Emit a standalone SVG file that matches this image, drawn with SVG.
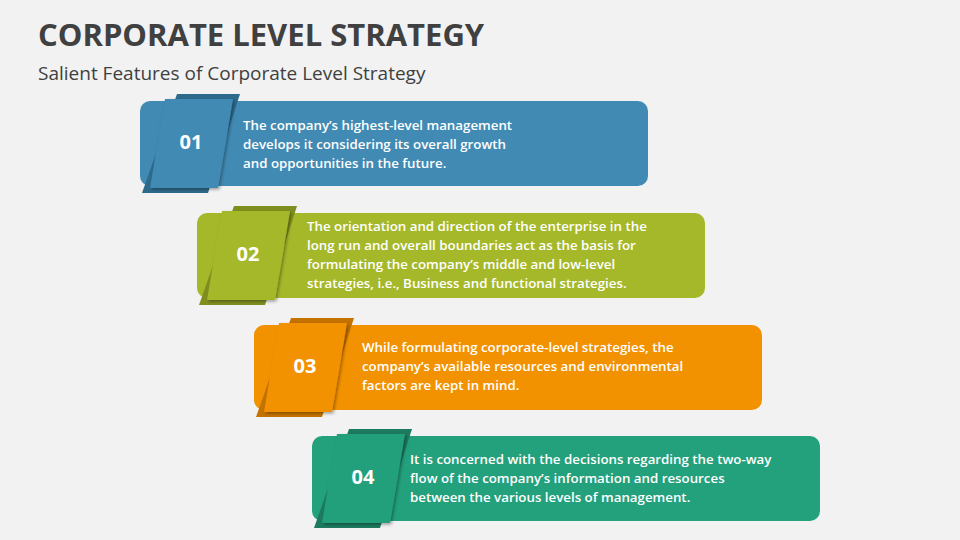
<svg xmlns="http://www.w3.org/2000/svg" width="960" height="540" viewBox="0 0 960 540">
<style>
.t{font-family:"Open Sans","Liberation Sans",sans-serif;font-size:13.3px;font-weight:600;fill:#fff}
.n{font-family:"Open Sans","Liberation Sans",sans-serif;font-size:20px;font-weight:700;fill:#fff;text-anchor:middle}
</style>
<defs><filter id="sh" x="-20%" y="-20%" width="140%" height="140%"><feDropShadow dx="1.5" dy="1.5" stdDeviation="1.5" flood-opacity="0.35"/></filter></defs>
<rect width="960" height="540" fill="#F2F2F2"/>
<text x="38" y="46" font-family="'Open Sans','Liberation Sans',sans-serif" font-size="31" font-weight="700" fill="#404040">CORPORATE LEVEL STRATEGY</text>
<text x="38" y="80" font-family="'Open Sans','Liberation Sans',sans-serif" font-size="19" fill="#404040">Salient Features of Corporate Level Strategy</text>
<g id="n1">
<rect x="140" y="101" width="508" height="85" rx="10" fill="#418AB3"/>
<polygon points="177,94 240,94 208,193 142,193" fill="#2E6A8C"/>
<polygon points="165,99 233,99 218,188 150,188" fill="#418AB3" filter="url(#sh)"/>
<text class="n" x="191" y="149">01</text>
<text class="t" x="243" y="130">The company’s highest-level management</text>
<text class="t" x="243" y="149">develops it considering its overall growth</text>
<text class="t" x="243" y="168">and opportunities in the future.</text>
</g>
<g id="n2">
<rect x="197" y="213" width="508" height="85" rx="10" fill="#A5B82A"/>
<polygon points="234,206 297,206 265,305 199,305" fill="#7F8F1E"/>
<polygon points="222,211 290,211 275,300 207,300" fill="#A5B82A" filter="url(#sh)"/>
<text class="n" x="248" y="261">02</text>
<text class="t" x="307" y="231">The orientation and direction of the enterprise in the</text>
<text class="t" x="307" y="250">long run and overall boundaries act as the basis for</text>
<text class="t" x="307" y="269">formulating the company’s middle and low-level</text>
<text class="t" x="307" y="288">strategies, i.e., Business and functional strategies.</text>
</g>
<g id="n3">
<rect x="254" y="325" width="508" height="85" rx="10" fill="#F39200"/>
<polygon points="291,318 354,318 322,417 256,417" fill="#C47200"/>
<polygon points="279,323 347,323 332,412 264,412" fill="#F39200" filter="url(#sh)"/>
<text class="n" x="305" y="373">03</text>
<text class="t" x="362" y="352">While formulating corporate-level strategies, the</text>
<text class="t" x="362" y="371">company’s available resources and environmental</text>
<text class="t" x="362" y="390">factors are kept in mind.</text>
</g>
<g id="n4">
<rect x="312" y="436" width="508" height="85" rx="10" fill="#23A07C"/>
<polygon points="349,429 412,429 380,528 314,528" fill="#1C7A5E"/>
<polygon points="337,434 405,434 390,523 322,523" fill="#23A07C" filter="url(#sh)"/>
<text class="n" x="363" y="484">04</text>
<text class="t" x="410" y="464">It is concerned with the decisions regarding the two-way</text>
<text class="t" x="410" y="483">flow of the company’s information and resources</text>
<text class="t" x="410" y="502">between the various levels of management.</text>
</g>
<g id="connectors"/>
</svg>
